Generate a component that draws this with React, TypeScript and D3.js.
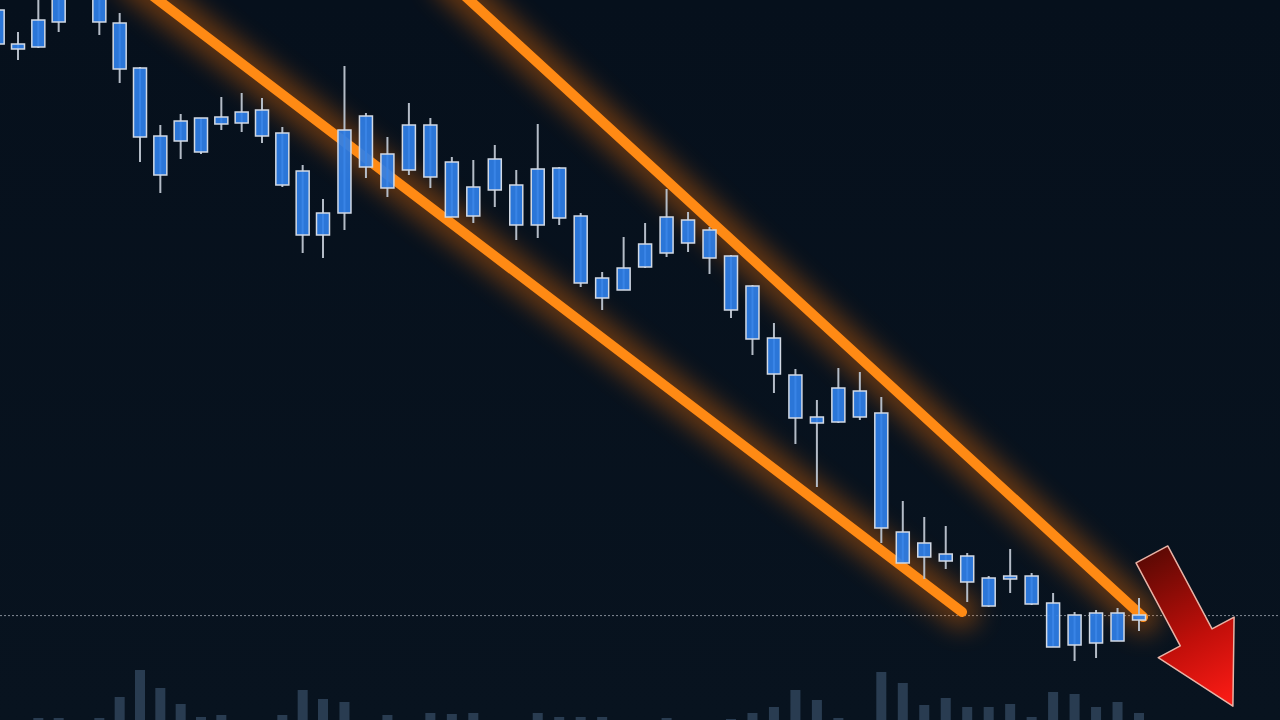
import React from "react";
import * as d3 from "d3";

// OHLC (price units), index 0 is the partly hidden candle at the left edge
const open = [197.5, 189, 188.25, 201, 210, 202.5, 194.25, 183, 166, 164.75, 162, 169, 169.25, 172.5, 166.75, 157.25, 141.25, 146.75, 171, 161.5, 157.5, 168.75, 159.5, 146, 152.5, 153.75, 143.75, 158, 146, 130.5, 127.5, 133.25, 136.75, 145, 142.5, 136, 128.5, 115.5, 106.25, 95.75, 94.5, 102.25, 96.75, 67, 60.75, 61.5, 61, 55.5, 55.25, 56, 49.25, 38.75, 39.25, 39.75, 46.25];
const high = [200.5, 192, 201, 202, 212.5, 203.75, 196.75, 183.25, 168.75, 171.5, 170.5, 175.75, 176.75, 175.5, 168.25, 158.75, 150.25, 183.5, 171.75, 165.75, 174.25, 170.5, 160.75, 160, 163.75, 157.5, 169, 158.25, 146.75, 132, 140.75, 144.25, 152.75, 147, 143.25, 136.25, 128.75, 119.25, 107.75, 100, 108, 107, 100.75, 74.75, 70.75, 68.5, 61.75, 56, 62.75, 56.75, 51.75, 47, 47.5, 48, 50.5];
const low = [188, 185, 188, 192, 200.5, 191.25, 179.25, 159.5, 151.75, 160.25, 161.5, 167.5, 167, 164.25, 153.25, 136.75, 135.5, 142.5, 155.5, 150.75, 156.25, 153, 145.75, 144.25, 148.25, 140, 140.5, 143.75, 128.25, 122.5, 127.5, 133, 135.75, 137, 131.5, 120.5, 111.25, 101.75, 89, 78.25, 94.25, 95, 64.25, 59.25, 55.25, 57.75, 49.5, 48.25, 51.75, 48.75, 38.25, 34.75, 35.5, 39.75, 42.25];
const close = [189, 187.75, 195, 194.5, 202.5, 194.5, 182.75, 165.75, 156.25, 169.75, 170.5, 170.75, 172, 166, 153.75, 141.25, 146.75, 167.5, 158.25, 153, 168.75, 155.75, 145.75, 153.25, 160.25, 143.75, 157.75, 145.5, 129.25, 125.5, 133, 139, 145.75, 139.25, 135.5, 122.5, 115.25, 106.5, 95.5, 94.25, 103, 95.75, 68, 59.25, 64.25, 59.75, 54.5, 48.5, 56, 49, 38.25, 46.25, 46.75, 46.75, 45];
const volume = [0, 4, 12, 12, 6, 12, 33, 60, 42, 26, 13, 15, 6, 6, 15, 40, 31, 28, 6, 15, 6, 17, 16, 17, 6, 6, 17, 13, 13, 13, 6, 6, 12, 6, 6, 11, 17, 23, 40, 30, 12, 6, 58, 47, 25, 32, 23, 23, 26, 13, 38, 36, 23, 28, 17];

// channel lines: [index, price] endpoints
const upperLine: [number, number][] = [[21.8, 205], [54.19, 45.75]];
const lowerLine: [number, number][] = [[6.6, 205], [45.76, 47]];
const supportPrice = 46.1;
// arrow anchor (tail centre) in index / price
const arrowAnchor: [number, number] = [54.6, 61.4];

const W = 1280;
const H = 720;

export default function App() {
  const x = d3.scaleLinear().domain([1, 16, 54]).range([18, 323, 1139]);
  const y = d3.scaleLinear().domain([20, 200]).range([H, 0]);
  const yVol = d3.scaleLinear().domain([0, 100]).range([730, 630]);

  const line = d3
    .line<[number, number]>()
    .x((d) => x(d[0]))
    .y((d) => y(d[1]));

  const bodyW = 13;
  const volW = 10;

  const ax = x(arrowAnchor[0]);
  const ay = y(arrowAnchor[1]);
  // arrow drawn along +x then rotated
  const arrowPath = "M0,-18L94,-18L94,-43L172,0L94,43L94,18L0,18Z";

  return (
    <svg
      width={W}
      height={H}
      style={{ position: "fixed", left: 0, top: 0, display: "block" }}
    >
      <defs>
        <linearGradient id="bg" x1="0" y1="0" x2="0" y2="1">
          <stop offset="0" stopColor="#06101c" />
          <stop offset="1" stopColor="#08131f" />
        </linearGradient>
        <linearGradient id="arrowFill" x1="0" y1="0" x2="1" y2="0">
          <stop offset="0" stopColor="#5e0904" />
          <stop offset="0.55" stopColor="#c10f0a" />
          <stop offset="1" stopColor="#ff1c16" />
        </linearGradient>
        <filter id="glow" filterUnits="userSpaceOnUse" x="0" y="0" width={W} height={H}>
          <feGaussianBlur stdDeviation="12" />
        </filter>
      </defs>

      <rect width={W} height={H} fill="url(#bg)" />

      {/* volume */}
      <g fill="#4a6683" opacity={0.5}>
        {volume.map((v, i) => (
          <rect
            key={i}
            x={x(i) - volW / 2}
            y={yVol(v)}
            width={volW}
            height={Math.max(0, yVol(0) - yVol(v))}
          />
        ))}
      </g>

      {/* support line */}
      <line
        x1={0}
        x2={W}
        y1={y(supportPrice)}
        y2={y(supportPrice)}
        stroke="#d8dde6"
        strokeWidth={1}
        strokeDasharray="2 2"
        opacity={0.6}
      />

      {/* channel glow */}
      <g fill="none" strokeLinecap="round">
        {[upperLine, lowerLine].map((l, i) => (
          <g key={i}>
            <path d={line(l) ?? ""} stroke="#ff7300" strokeWidth={34} opacity={0.38} filter="url(#glow)" />
            <path d={line(l) ?? ""} stroke="#ff8a14" strokeWidth={10} />
          </g>
        ))}
      </g>

      {/* candles */}
      <g>
        {open.map((o, i) => {
          const cx = x(i);
          const top = y(Math.max(o, close[i]));
          const bot = y(Math.min(o, close[i]));
          return (
            <g key={i}>
              <line x1={cx} x2={cx} y1={y(high[i])} y2={y(low[i])} stroke="#b4bcc7" strokeWidth={2} />
              <rect
                x={cx - bodyW / 2}
                y={top}
                width={bodyW}
                height={Math.max(2, bot - top)}
                fill="#2f7fe8"
                fillOpacity={0.92}
                stroke="#d2d9e4"
                strokeWidth={1.5}
              />
            </g>
          );
        })}
      </g>

      {/* red arrow */}
      <g transform={`translate(${ax},${ay}) rotate(61.9)`}>
        <path d={arrowPath} fill="url(#arrowFill)" stroke="#e9b3a6" strokeWidth={1.5} strokeLinejoin="round" />
      </g>
    </svg>
  );
}
